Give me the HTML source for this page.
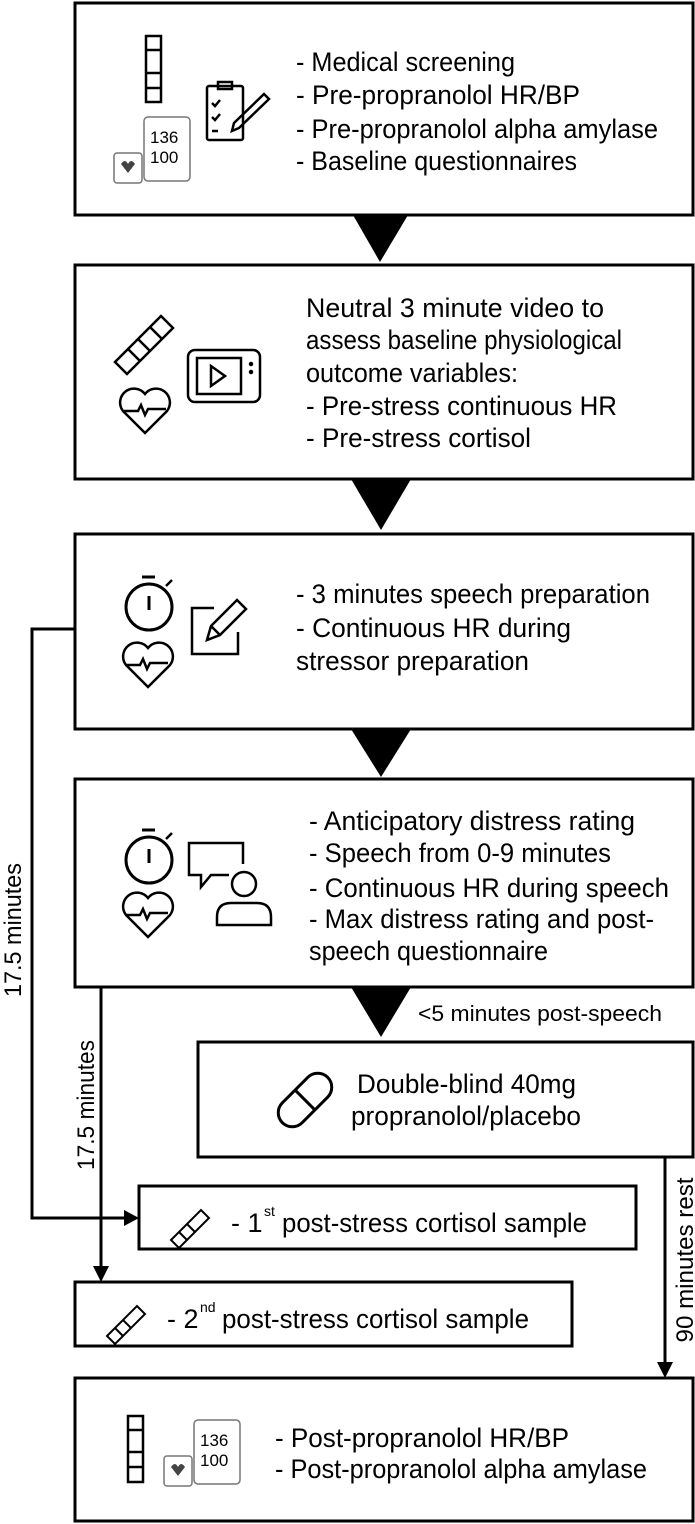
<!DOCTYPE html>
<html><head><meta charset="utf-8"><style>
html,body{margin:0;padding:0;background:#fff;}
svg{display:block;}
text{font-family:"Liberation Sans",sans-serif;font-size:27px;fill:#000;}
</style></head><body>
<svg width="695" height="1524" viewBox="0 0 695 1524" xmlns="http://www.w3.org/2000/svg">
<g fill="none" stroke="#000" stroke-width="3">
<rect x="75" y="3" width="618" height="212"/>
<rect x="75" y="265" width="618" height="214"/>
<rect x="75" y="534" width="618" height="195"/>
<rect x="75" y="779" width="618" height="208"/>
<rect x="198" y="1042" width="495" height="115"/>
<rect x="139" y="1186" width="497" height="63"/>
<rect x="75" y="1282" width="497" height="64"/>
<rect x="75" y="1378" width="618" height="143"/>
<polyline points="75,629 32,629 32,1218 126,1218"/>
<line x1="101" y1="987" x2="101" y2="1268"/>
<line x1="665" y1="1157" x2="665" y2="1364"/>
</g>
<g fill="#000">
<polygon points="353,215 408,215 380,262"/>
<polygon points="351,479 411,479 381,530"/>
<polygon points="351,729 411,729 381,777"/>
<polygon points="351,987 411,987 381,1037"/>
<polygon points="124,1210 124,1226 139,1218"/>
<polygon points="93,1266 109,1266 101,1282"/>
<polygon points="657,1362 673,1362 665,1378"/>
</g>
<g lengthAdjust="spacingAndGlyphs">
<text x="296" y="71" textLength="219" lengthAdjust="spacingAndGlyphs">- Medical screening</text>
<text x="296" y="104" textLength="284" lengthAdjust="spacingAndGlyphs">- Pre-propranolol HR/BP</text>
<text x="296" y="138" textLength="362" lengthAdjust="spacingAndGlyphs">- Pre-propranolol alpha amylase</text>
<text x="296" y="170" textLength="281" lengthAdjust="spacingAndGlyphs">- Baseline questionnaires</text>

<text x="306" y="317" textLength="298" lengthAdjust="spacingAndGlyphs">Neutral 3 minute video to</text>
<text x="306" y="349" textLength="316" lengthAdjust="spacingAndGlyphs">assess baseline physiological</text>
<text x="306" y="382" textLength="212" lengthAdjust="spacingAndGlyphs">outcome variables:</text>
<text x="306" y="415" textLength="311" lengthAdjust="spacingAndGlyphs">- Pre-stress continuous HR</text>
<text x="306" y="447" textLength="225" lengthAdjust="spacingAndGlyphs">- Pre-stress cortisol</text>

<text x="296" y="603" textLength="354" lengthAdjust="spacingAndGlyphs">- 3 minutes speech preparation</text>
<text x="296" y="637" textLength="275" lengthAdjust="spacingAndGlyphs">- Continuous HR during</text>
<text x="296" y="670" textLength="233" lengthAdjust="spacingAndGlyphs">stressor preparation</text>

<text x="309" y="830" textLength="326" lengthAdjust="spacingAndGlyphs">- Anticipatory distress rating</text>
<text x="309" y="862" textLength="302" lengthAdjust="spacingAndGlyphs">- Speech from 0-9 minutes</text>
<text x="309" y="897" textLength="360" lengthAdjust="spacingAndGlyphs">- Continuous HR during speech</text>
<text x="309" y="928" textLength="345" lengthAdjust="spacingAndGlyphs">- Max distress rating and post-</text>
<text x="309" y="960" textLength="239" lengthAdjust="spacingAndGlyphs">speech questionnaire</text>

<text x="418" y="1021" textLength="244" lengthAdjust="spacingAndGlyphs" style="font-size:22px">&lt;5 minutes post-speech</text>

<text x="357" y="1093" textLength="219" lengthAdjust="spacingAndGlyphs">Double-blind 40mg</text>
<text x="351" y="1125" textLength="230" lengthAdjust="spacingAndGlyphs">propranolol/placebo</text>

<text x="231" y="1232">- 1</text>
<text x="264" y="1216" style="font-size:14px">st</text>
<text x="282" y="1232" textLength="305" lengthAdjust="spacingAndGlyphs">post-stress cortisol sample</text>

<text x="167" y="1328">- 2</text>
<text x="200" y="1312" style="font-size:14px">nd</text>
<text x="222" y="1328" textLength="307" lengthAdjust="spacingAndGlyphs">post-stress cortisol sample</text>

<text x="275" y="1447" textLength="294" lengthAdjust="spacingAndGlyphs">- Post-propranolol HR/BP</text>
<text x="275" y="1478" textLength="372" lengthAdjust="spacingAndGlyphs">- Post-propranolol alpha amylase</text>

<text transform="translate(21,930) rotate(-90)" text-anchor="middle" textLength="134" lengthAdjust="spacingAndGlyphs" style="font-size:24px">17.5 minutes</text>
<text transform="translate(94,1105) rotate(-90)" text-anchor="middle" textLength="130" lengthAdjust="spacingAndGlyphs" style="font-size:24px">17.5 minutes</text>
<text transform="translate(693,1260) rotate(-90)" text-anchor="middle" textLength="165" lengthAdjust="spacingAndGlyphs" style="font-size:24px">90 minutes rest</text>
</g>

<g fill="none" stroke="#000" stroke-width="2.5">
<rect x="146" y="36" width="15" height="66"/>
<line x1="146" y1="50" x2="161" y2="50"/><line x1="146" y1="73" x2="161" y2="73"/><line x1="146" y1="88" x2="161" y2="88"/>
<g stroke="#777" stroke-width="1.5">
<rect x="144" y="117" width="46" height="64" rx="4"/>
<rect x="114" y="153" width="28" height="30" rx="3"/>
</g>
<text x="150" y="143" style="font-size:17px;stroke:none">136</text>
<text x="150" y="163" style="font-size:17px;stroke:none">100</text>
<path d="M121 164 q4-6 7 0 q3-6 7 0 l-7 9z" fill="#444" stroke="none"/>
<rect x="207" y="86" width="36" height="54" rx="2"/>
<rect x="218" y="82" width="14" height="7"/>
<path d="M212 103 l3 3 5-6 M212 117 l3 3 5-6 M212 131 h6"/>
<path d="M234 123 l30-29 5 5 -30 29 -7 3z"/>
<path d="M115 362 l46-46 12 12 -46 46z"/>
<path d="M128 349 l12 12 M138 339 l12 12 M150 327 l12 12"/>
<rect x="188" y="350" width="72" height="52" rx="7"/>
<rect x="197" y="358" width="44" height="36"/>
<path d="M211 366 v20 l14-10z"/>
<circle cx="251" cy="364" r="1" fill="#000"/><circle cx="251" cy="372" r="1" fill="#000"/>
<path d="M145 433 l-22-22 a12 12 0 0 1 22-17 a12 12 0 0 1 22 17 z"/>
<path d="M124 411 h14 l3-6 4 10 3-6 h18"/>
<line x1="142" y1="577" x2="155" y2="577" stroke-width="3"/>
<circle cx="149" cy="607" r="23" stroke-width="3"/>
<line x1="149" y1="596" x2="149" y2="610" stroke-width="3"/>
<line x1="166" y1="586" x2="172" y2="580"/>
<path d="M238 632 v22 h-46 v-46 h22"/>
<path d="M207 640 l4-14 26-26 9 9 -26 26z M211 626 l9 9"/>
<path d="M148 687 l-22-22 a12 12 0 0 1 22-17 a12 12 0 0 1 22 17 z"/>
<path d="M126 665 h14 l3-6 4 10 3-6 h18"/>
<line x1="142" y1="830" x2="155" y2="830" stroke-width="3"/>
<circle cx="149" cy="860" r="23" stroke-width="3"/>
<line x1="149" y1="849" x2="149" y2="863" stroke-width="3"/>
<line x1="166" y1="839" x2="172" y2="833"/>
<path d="M148 937 l-22-22 a12 12 0 0 1 22-17 a12 12 0 0 1 22 17 z"/>
<path d="M126 915 h14 l3-6 4 10 3-6 h18"/>
<path d="M243 864 v-21 h-54 v32 h12 v12 l10-12 h18"/>
<circle cx="244" cy="884" r="12"/>
<path d="M217 925 v-8 q0-14 14-14 h26 q14 0 14 14 v8z"/>
<g transform="translate(305,1100) rotate(-45)">
<rect x="-32" y="-14" width="64" height="28" rx="14" stroke-width="3"/>
<line x1="0" y1="-14" x2="0" y2="14" stroke-width="3"/>
</g>
<path d="M171 1240 l30-30 8 8 -30 30z" stroke-width="2"/>
<path d="M179 1232 l8 8 M187 1224 l8 8" stroke-width="2"/>
<path d="M107 1336 l30-30 8 8 -30 30z" stroke-width="2"/>
<path d="M115 1328 l8 8 M123 1320 l8 8" stroke-width="2"/>
<rect x="128" y="1416" width="15" height="66"/>
<line x1="128" y1="1430" x2="143" y2="1430"/><line x1="128" y1="1452" x2="143" y2="1452"/><line x1="128" y1="1467" x2="143" y2="1467"/>
<g stroke="#777" stroke-width="1.5">
<rect x="194" y="1420" width="46" height="64" rx="4"/>
<rect x="164" y="1456" width="28" height="30" rx="3"/>
</g>
<text x="200" y="1446" style="font-size:17px;stroke:none">136</text>
<text x="200" y="1466" style="font-size:17px;stroke:none">100</text>
<path d="M171 1467 q4-6 7 0 q3-6 7 0 l-7 9z" fill="#444" stroke="none"/>
</g>
</svg>
</body></html>
